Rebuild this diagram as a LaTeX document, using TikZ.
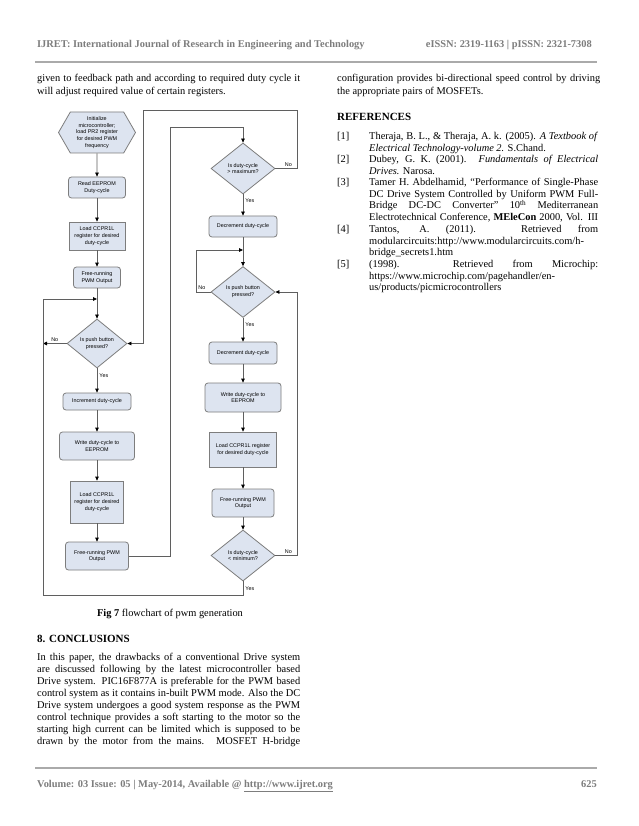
\documentclass[tikz,border=0pt]{standalone}
\usepackage{fontspec}
\setmainfont{Liberation Serif}
\newfontfamily\flowfont{Liberation Sans}
\usetikzlibrary{positioning, arrows.meta, shapes.geometric, shapes.symbols}

\definecolor{boxfill}{RGB}{221,228,240}
\definecolor{boxline}{RGB}{125,125,125}
\definecolor{wiregray}{RGB}{95,95,95}
\definecolor{headgray}{RGB}{125,125,125}
\definecolor{rulegray}{RGB}{170,170,170}

\newcommand\bodyfont{\fontsize{10.4}{12.4}\selectfont}
\newcommand\reffont{\fontsize{10.4}{11.7}\selectfont}
\newcommand\flowtext{\flowfont\fontsize{5.4}{6.8}\selectfont}
\newcommand\fullpar{\unskip\parfillskip=0pt\par}

\begin{document}
\begin{tikzpicture}[x=1pt, y=-1pt,
    every node/.style = {inner sep=0pt},
    fbox/.style     = {rectangle, draw=boxline, fill=boxfill, line width=0.8pt,
                       align=center, font=\flowtext},
    rbox/.style     = {fbox, rounded corners=3pt},
    dec/.style      = {diamond, draw=boxline, fill=boxfill, line width=0.8pt,
                       align=center, font=\flowtext,
                       minimum width=64pt, minimum height=51pt},
    hexa/.style     = {signal, signal to=west and east, signal pointer angle=120,
                       draw=boxline, fill=boxfill, line width=0.8pt,
                       align=center, font=\flowtext},
    wire/.style     = {draw=wiregray, line width=0.8pt},
    arr/.style      = {wire, -{Triangle[length=4pt, width=3.6pt, color=black]}},
    lbl/.style      = {font=\flowtext, inner sep=2pt},
    body/.style     = {font=\bodyfont, text width=263pt, align=justify, anchor=base west},
    refs/.style     = {font=\reffont, text width=229pt, align=justify, anchor=base west},
    pagehead/.style = {font=\bodyfont\bfseries, text=headgray, anchor=base west}
]
\useasboundingbox[fill=white] (0,0) rectangle (638,826);

% page header
\node[pagehead] (jname) at (37,48) {IJRET: International Journal of Research in Engineering and Technology};
\node[pagehead, anchor=base east] (issn) at (592,48) {eISSN: 2319-1163 | pISSN: 2321-7308};
\draw[rulegray, line width=1.5pt] (35,62) -- (597,62);

% running text
\node[body] (txtL) at (37,82) {given to feedback path and according to required duty cycle it\break
  will adjust required value of certain registers.};
\node[body] (txtR) at (337,82) {configuration provides bi-directional speed control by driving\break
  the appropriate pairs of MOSFETs.};

% flowchart, left column
\node[hexa, minimum width=77pt, minimum height=41pt] (init) at (97,132.5)
  {Initialize\\microcontroller;\\load PR2 register\\for desired PWM\\frequency};
\node[rbox, minimum width=57pt, minimum height=21pt] (readee) at (97,187.5) {Read EEPROM\\Duty-cycle};
\node[fbox, minimum width=56pt, minimum height=28pt] (loadL)  at (97,236) {Load CCPR1L\\register for desired\\duty-cycle};
\node[rbox, minimum width=47pt, minimum height=21pt] (freeL)  at (97,277.5) {Free-running\\PWM Output};
\node[dec,  minimum width=60pt, minimum height=49pt] (pushL)  at (97,343.5) {Is push button\\pressed?};
\node[rbox, minimum width=68pt, minimum height=17pt] (incr)   at (97,401.5) {Increment duty-cycle};
\node[rbox, minimum width=75pt, minimum height=28pt] (writeL) at (97,446) {Write duty-cycle to\\EEPROM};
\node[fbox, minimum width=53pt, minimum height=42pt] (loadL2) at (97,502) {Load CCPR1L\\register for desired\\duty-cycle};
\node[rbox, minimum width=63pt, minimum height=28pt] (freeL2) at (97,556) {Free-running PWM\\Output};

% flowchart, right column
\node[dec] (maxR) at (243,168.5) {Is duty-cycle\\> maximum?};
\node[rbox, minimum width=68pt, minimum height=21pt] (decR)   at (243,226.5) {Decrement duty-cycle};
\node[dec] (pushR) at (243,292) {Is push button\\pressed?};
\node[rbox, minimum width=68pt, minimum height=22pt] (decR2)  at (243,353) {Decrement duty-cycle};
\node[rbox, minimum width=76pt, minimum height=29pt] (writeR) at (243,397.5) {Write duty-cycle to\\EEPROM};
\node[fbox, minimum width=67pt, minimum height=35pt] (loadR)  at (243,449.5) {Load CCPR1L register\\for desired duty-cycle};
\node[rbox, minimum width=62pt, minimum height=28pt] (freeR)  at (243,503) {Free-running PWM\\Output};
\node[dec] (minR) at (243,555.5) {Is duty-cycle\\< minimum?};

% corners of the loops
\coordinate (jL)     at (97,299);
\coordinate (noL)    at (43,343.5);
\coordinate (loopBL) at (43,595);
\coordinate (loopTR) at (297,110);
\coordinate (loopTL) at (143,110);
\coordinate (upM)    at (170,127);
\coordinate (jR)     at (243,250);
\coordinate (noR)    at (196,250);
\coordinate (loopR)  at (297,292);

\draw[arr] (init) -- (readee);
\draw[arr] (readee) -- (loadL);
\draw[arr] (loadL) -- (freeL);
\draw[arr] (freeL) -- (pushL);
\draw[arr] (pushL.west) -- node[lbl, above] {No} (noL);
\draw[arr] (pushL) -- node[lbl, pos=0.3, right] {Yes} (incr);
\draw[arr] (incr) -- (writeL);
\draw[arr] (writeL) -- (loadL2);
\draw[arr] (loadL2) -- (freeL2);
\draw[arr] (freeL2.east) -| (upM) -| (maxR.north);
\draw[arr] (maxR.east) -| node[lbl, pos=0.3, above] {No} (loopTR) -- (loopTL) |- (pushL.east);
\draw[arr] (maxR) -- node[lbl, pos=0.3, right] {Yes} (decR);
\draw[arr] (decR) -- (pushR);
\draw[arr] (pushR.west) -| node[lbl, pos=0.3, above] {No} (noR) -- (jR);
\draw[arr] (pushR) -- node[lbl, pos=0.3, right] {Yes} (decR2);
\draw[arr] (decR2) -- (writeR);
\draw[arr] (writeR) -- (loadR);
\draw[arr] (loadR) -- (freeR);
\draw[arr] (freeR) -- (minR);
\draw[arr] (minR.east) -| node[lbl, pos=0.3, above] {No} (loopR) -- (pushR.east);
\draw[arr] (minR.south) |- node[lbl, pos=0.25, right] {Yes} (loopBL) |- (jL);

\node[font=\bodyfont, anchor=base] (cap) at (170,616) {\textbf{Fig 7} flowchart of pwm generation};

% references
\node[font=\fontsize{11}{13}\selectfont\bfseries, anchor=base west] (refhead) at (337,121) {REFERENCES};
\node[font=\reffont, anchor=base west] (n1) at (337,139.5) {[1]};
\node[refs] (ref1) at (369,139.5) {Theraja, B. L., \& Theraja, A. k. (2005). \textit{A Textbook of}\break
  \textit{Electrical Technology-volume 2.} S.Chand.};
\node[font=\reffont, anchor=base west] (n2) at (337,162.5) {[2]};
\node[refs] (ref2) at (369,162.5) {Dubey, G. K. (2001). \textit{Fundamentals of Electrical}\break
  \textit{Drives.} Narosa.};
\node[font=\reffont, anchor=base west] (n3) at (337,185.5) {[3]};
\node[refs] (ref3) at (369,185.5) {Tamer H. Abdelhamid, ``Performance of Single-Phase\break
  DC Drive System Controlled by Uniform PWM Full-\break
  Bridge DC-DC Converter'' 10\textsuperscript{th} Mediterranean\break
  Electrotechnical Conference, \textbf{MEleCon} 2000, Vol. III\fullpar};
\node[font=\reffont, anchor=base west] (n4) at (337,232.5) {[4]};
\node[refs] (ref4) at (369,232.5) {Tantos, A. (2011). Retrieved from\break
  modularcircuits:http://www.modularcircuits.com/h-\hfill\break
  bridge\_secrets1.htm};
\node[font=\reffont, anchor=base west] (n5) at (337,267.5) {[5]};
\node[refs] (ref5) at (369,267.5) {(1998). Retrieved from Microchip:\break
  https://www.microchip.com/pagehandler/en-\hfill\break
  us/products/picmicrocontrollers};

% conclusions
\node[font=\fontsize{11}{13}\selectfont\bfseries, anchor=base west] (conhead) at (37,642) {8. CONCLUSIONS};
\node[body, font=\fontsize{10.4}{12}\selectfont] (con) at (37,660.5) {In this paper, the drawbacks of a conventional Drive system\break
  are discussed following by the latest microcontroller based\break
  Drive system. PIC16F877A is preferable for the PWM based\break
  control system as it contains in-built PWM mode. Also the DC\break
  Drive system undergoes a good system response as the PWM\break
  control technique provides a soft starting to the motor so the\break
  starting high current can be limited which is supposed to be\break
  drawn by the motor from the mains. MOSFET H-bridge\fullpar};

% page footer
\draw[rulegray, line width=1.5pt] (35,768) -- (597,768);
\node[pagehead] (vol) at (37,787) {Volume: 03 Issue: 05 | May-2014, Available @ \underline{http://www.ijret.org}};
\node[pagehead, anchor=base east] (pgno) at (597,787) {625};
\end{tikzpicture}
\end{document}
